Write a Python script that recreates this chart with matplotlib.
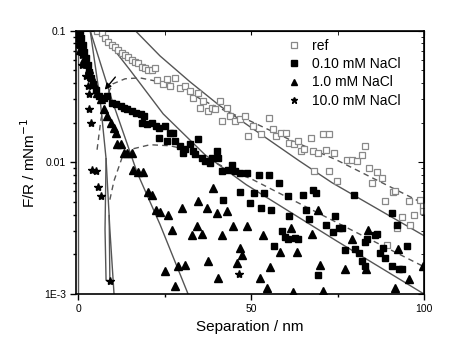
import matplotlib
matplotlib.use("Agg")
import matplotlib.pyplot as plt
from matplotlib.ticker import FixedLocator, FixedFormatter, LogLocator, NullFormatter, MultipleLocator

plt.rcParams['font.family'] = ['Liberation Sans', 'DejaVu Sans']

# ---- data (separation in nm, F/R in mN/m) ----
ref_x = [5.5, 6.9, 7.8, 8.7, 9.8, 10.7, 11.6, 12.7, 13.6, 14.5, 15.6, 16.5, 17.3, 18.5, 19.4,
         20.2, 21.4, 22.3, 22.8, 24.6, 25.7, 26.6, 28.0, 29.5, 30.9, 32.4, 33.2, 34.7, 35.3, 36.1,
         37.6, 38.7, 39.6, 41.0, 41.6, 43.1, 43.9, 45.4, 46.8, 48.3, 49.1, 50.6, 52.9, 55.2, 56.4,
         57.2, 58.7, 60.1, 61.0, 62.4, 63.6, 64.5, 65.3, 67.3, 67.9, 69.4, 70.8, 72.5, 71.7, 74.0,
         74.9, 68.2, 72.5, 77.7, 79.2, 80.6, 82.1, 82.9, 84.1, 85.0, 86.4, 87.9, 88.7, 89.3, 91.0,
         91.6, 92.2, 93.6, 95.7, 96.0, 97.1, 98.8, 99.6, 99.6]
ref_y = [0.0991, 0.0957, 0.0877, 0.0818, 0.0777, 0.0750, 0.0711, 0.0676, 0.0652, 0.0630, 0.0598,
         0.0577, 0.0567, 0.0529, 0.0520, 0.0502, 0.0502, 0.0520, 0.0422, 0.0393, 0.0429, 0.0380,
         0.0437, 0.0367, 0.0380, 0.0348, 0.0308, 0.0336, 0.0259, 0.0292, 0.0245, 0.0259, 0.0254,
         0.0292, 0.0206, 0.0259, 0.0225, 0.0206, 0.0214, 0.0225, 0.0159, 0.0189, 0.0164, 0.0217,
         0.0179, 0.0159, 0.0167, 0.0167, 0.0141, 0.0138, 0.0146, 0.0122, 0.0127, 0.0153, 0.0122,
         0.0118, 0.0164, 0.0164, 0.0124, 0.0118, 0.00724, 0.00863, 0.00863, 0.0104, 0.0104, 0.0103,
         0.0114, 0.0133, 0.00908, 0.00700, 0.00847, 0.00763, 0.00511, 0.00237, 0.00598, 0.00608,
         0.00319, 0.00387, 0.00511, 0.00336, 0.00400, 0.00520, 0.00468, 0.00429]

nacl01_x = [0.6, 0.9, 1.4, 1.7, 2.3, 2.9, 3.2, 3.8, 4.3, 5.2, 6.1, 7.5, 8.4, 9.8, 11.0, 12.4, 13.3,
            14.2, 15.6, 16.8, 18.2, 19.1, 18.5, 19.9, 21.4, 22.5, 23.4, 23.4, 25.1, 26.6, 27.5,
            25.7, 28.0, 29.5, 30.9, 30.3, 32.4, 33.2, 33.8, 34.7, 35.8, 36.7, 38.2, 38.7, 40.2,
            40.5, 41.6, 43.4, 44.5, 45.4, 46.8, 48.8, 46.8, 41.9, 49.7, 52.3, 55.2, 58.1, 50.9,
            53.8, 52.9, 55.8, 60.7, 65.0, 67.9, 68.8, 65.9, 61.0, 66.8, 71.7, 59.0, 59.8, 60.7,
            62.7, 63.6, 56.6, 69.4, 74.3, 73.7, 75.4, 76.3, 79.8, 77.2, 80.1, 81.2, 82.1, 82.9,
            82.9, 85.8, 87.3, 88.2, 88.7, 90.8, 92.8, 93.6, 95.1, 90.8, 92.2, 86.4, 83.5]
nacl01_y = [0.0991, 0.0877, 0.0777, 0.0687, 0.0619, 0.0548, 0.0485, 0.0437, 0.0393, 0.0354,
            0.0319, 0.0308, 0.0319, 0.0282, 0.0277, 0.0268, 0.0259, 0.0254, 0.0245, 0.0237,
            0.0233, 0.0225, 0.0199, 0.0196, 0.0199, 0.0189, 0.0183, 0.0153, 0.0189, 0.0167,
            0.0167, 0.0146, 0.0146, 0.0133, 0.0127, 0.0118, 0.0138, 0.0122, 0.0116, 0.0151,
            0.0107, 0.0103, 0.00992, 0.0108, 0.0122, 0.0107, 0.00863, 0.00877, 0.00957, 0.00863,
            0.00832, 0.00832, 0.00598, 0.00520, 0.00491, 0.00804, 0.00804, 0.00700, 0.00589,
            0.00589, 0.00453, 0.00437, 0.00558, 0.00567, 0.00617, 0.00589, 0.00437, 0.00394,
            0.00368, 0.00336, 0.00299, 0.00273, 0.00260, 0.00267, 0.00260, 0.00233, 0.00140,
            0.00394, 0.00294, 0.00319, 0.00319, 0.00567, 0.00214, 0.00218, 0.00206, 0.00179,
            0.00246, 0.00163, 0.00278, 0.00206, 0.00225, 0.00189, 0.00163, 0.00154, 0.00154,
            0.00233, 0.00415, 0.00336, 0.00283, 0.00260]

nacl1_x = [0.0, 0.0, 0.0, 0.6, 1.7, 3.2, 3.8, 4.6, 5.5, 6.6, 7.5, 8.4, 9.5, 10.4, 11.0, 11.3,
           12.4, 13.3, 14.2, 15.6, 15.9, 17.3, 18.8, 20.2, 21.4, 22.5, 23.7, 26.0, 27.2, 30.1,
           28.9, 30.9, 25.1, 28.0, 34.4, 32.9, 35.8, 34.7, 37.3, 40.2, 43.1, 39.0, 44.8, 48.8,
           41.6, 46.8, 47.4, 46.0, 37.6, 40.5, 53.5, 61.6, 58.4, 63.3, 67.6, 69.4, 69.9, 55.5,
           52.6, 54.6, 62.1, 70.8, 77.2, 79.2, 83.8, 83.2, 92.5, 95.7, 91.6, 99.6]
nacl1_y = [0.0957, 0.0893, 0.0804, 0.0711, 0.0608, 0.0511, 0.0452, 0.0393, 0.0336, 0.0303,
           0.0254, 0.0225, 0.0199, 0.0183, 0.0167, 0.0138, 0.0138, 0.0118, 0.0118, 0.0118,
           0.00877, 0.00847, 0.00847, 0.00598, 0.00567, 0.00437, 0.00422, 0.00400, 0.00307,
           0.00453, 0.00164, 0.00166, 0.00150, 0.00116, 0.00331, 0.00278, 0.00283, 0.00511,
           0.00453, 0.00415, 0.00429, 0.00641, 0.00331, 0.00331, 0.00278, 0.00225, 0.00198,
           0.00173, 0.00179, 0.00133, 0.00278, 0.00319, 0.00210, 0.00210, 0.00283, 0.00437,
           0.00166, 0.00161, 0.00133, 0.00112, 0.00103, 0.00105, 0.00154, 0.00260, 0.00307,
           0.00154, 0.00218, 0.00129, 0.00112, 0.00164]

nacl10_x = [0.0, 0.3, 1.2, 1.2, 2.3, 2.9, 3.2, 3.2, 3.8, 4.0, 5.2, 5.8, 6.6, 9.2, 46.5]
nacl10_y = [0.0957, 0.0776, 0.0652, 0.0548, 0.0452, 0.0380, 0.0331, 0.0254, 0.0199, 0.00877,
            0.00862, 0.00652, 0.00557, 0.00125, 0.00143]

# fitted curves
ref_fit_x = [16.5, 23.7, 32.4, 41.0, 49.7, 63.9, 73.4, 100.0]
ref_fit_y = [0.1, 0.0641, 0.0407, 0.0268, 0.0186, 0.01026, 0.0070, 0.00277]
ref_dash_x = [5.5, 6.6, 8.1, 10.1, 13.6, 17.9, 23.7, 31.5, 38.2, 43.9, 49.7, 61.3, 74.6, 99.4]
ref_dash_y = [0.01245, 0.0210, 0.0313, 0.0394, 0.0430, 0.0437, 0.0407, 0.0342, 0.0277, 0.0237,
              0.0206, 0.0148, 0.01045, 0.00493]
nacl01_fit_x = [6.1, 15.0, 24.6, 36.7, 48.6, 74.6, 100.0]
nacl01_fit_y = [0.1, 0.0502, 0.0233, 0.0114, 0.00676, 0.00254, 0.00100]
nacl01_dash_x = [9.2, 10.4, 12.7, 15.9, 20.8, 26.6, 31.5, 37.3, 43.9, 50.6, 74.3, 99.4]
nacl01_dash_y = [0.0052, 0.00724, 0.0108, 0.01265, 0.01358, 0.01334, 0.01245, 0.01063, 0.00877,
                 0.00736, 0.00354, 0.00164]
nacl1_fit_x = [3.5, 9.8, 17.1, 23.7, 31.8]
nacl1_fit_y = [0.1, 0.0297, 0.00832, 0.00337, 0.001]
nacl10_fit_x = [3.5, 6.4, 8.1, 9.2, 10.4]
nacl10_fit_y = [0.1, 0.0297, 0.01064, 0.00308, 0.001]
nacl10_loop_x = [8.1, 7.8, 8.1, 9.2, 9.0]
nacl10_loop_y = [0.01064, 0.00308, 0.00127, 0.00125, 0.00394]

line_col = '#555555'

fig = plt.figure(figsize=(4.74, 3.51), dpi=100)
ax = fig.add_axes([0.161, 0.1624, 0.7335, 0.7507])

ax.plot(ref_fit_x, ref_fit_y, color=line_col, lw=1.0)
ax.plot(nacl01_fit_x, nacl01_fit_y, color=line_col, lw=1.0)
ax.plot(nacl1_fit_x, nacl1_fit_y, color=line_col, lw=1.0)
ax.plot(nacl10_fit_x, nacl10_fit_y, color=line_col, lw=1.0)
ax.plot(nacl10_loop_x, nacl10_loop_y, color=line_col, lw=1.0)
ax.plot(ref_dash_x, ref_dash_y, color=line_col, lw=1.0, ls=(0, (4, 3)))
ax.plot(nacl01_dash_x, nacl01_dash_y, color=line_col, lw=1.0, ls=(0, (4, 3)))
ax.axvline(0, color=line_col, lw=1.0)

ax.plot(ref_x, ref_y, ls='none', marker='s', ms=5, mfc='white', mec='#888888', mew=0.9, label='ref')
ax.plot(nacl01_x, nacl01_y, ls='none', marker='s', ms=5, color='black', label='0.10 mM NaCl')
ax.plot(nacl1_x, nacl1_y, ls='none', marker='^', ms=5.5, color='black', label='1.0 mM NaCl')
ax.plot(nacl10_x, nacl10_y, ls='none', marker='*', ms=6, color='black', label='10.0 mM NaCl')

ax.annotate('', xy=(7.2, 0.0342), xytext=(11.3, 0.046),
            arrowprops=dict(arrowstyle='-|>', color='black', lw=1.0, mutation_scale=9))

ax.set_yscale('log')
ax.set_xlim(-0.5, 100)
ax.set_ylim(1e-3, 0.1)

ax.yaxis.set_major_locator(FixedLocator([1e-3, 1e-2, 1e-1]))
ax.yaxis.set_major_formatter(FixedFormatter(['1E-3', '0.01', '0.1']))
ax.yaxis.set_minor_locator(LogLocator(base=10, subs=range(2, 10)))
ax.yaxis.set_minor_formatter(NullFormatter())
ax.xaxis.set_major_locator(MultipleLocator(50))
ax.xaxis.set_minor_locator(MultipleLocator(25))

ax.tick_params(which='both', direction='out', top=False, right=False, labelsize=7.5, width=1.0)
ax.tick_params(which='major', length=4)
ax.tick_params(which='minor', length=2.5)
ax2 = ax.secondary_xaxis('top')
ax2.xaxis.set_major_locator(MultipleLocator(50))
ax2.xaxis.set_minor_locator(MultipleLocator(25))
ax2.tick_params(which='both', direction='in', labeltop=False, length=3)
ax3 = ax.secondary_yaxis('right')
ax3.yaxis.set_major_locator(FixedLocator([1e-3, 1e-2, 1e-1]))
ax3.yaxis.set_minor_locator(LogLocator(base=10, subs=range(2, 10)))
ax3.tick_params(which='both', direction='in', labelright=False)
ax3.tick_params(which='major', length=4)
ax3.tick_params(which='minor', length=2.5)
for sp in ax.spines.values():
    sp.set_linewidth(1.2)

ax.set_xlabel('Separation / nm', fontsize=11)
ax.set_ylabel('F/R / mNm$^{-1}$', fontsize=11)

ax.legend(loc='upper right', bbox_to_anchor=(0.97, 1.015), frameon=False, fontsize=10,
          handletextpad=0.7, labelspacing=0.3, handlelength=1.2, markerscale=0.75)

fig.savefig('out.png', dpi=100)
